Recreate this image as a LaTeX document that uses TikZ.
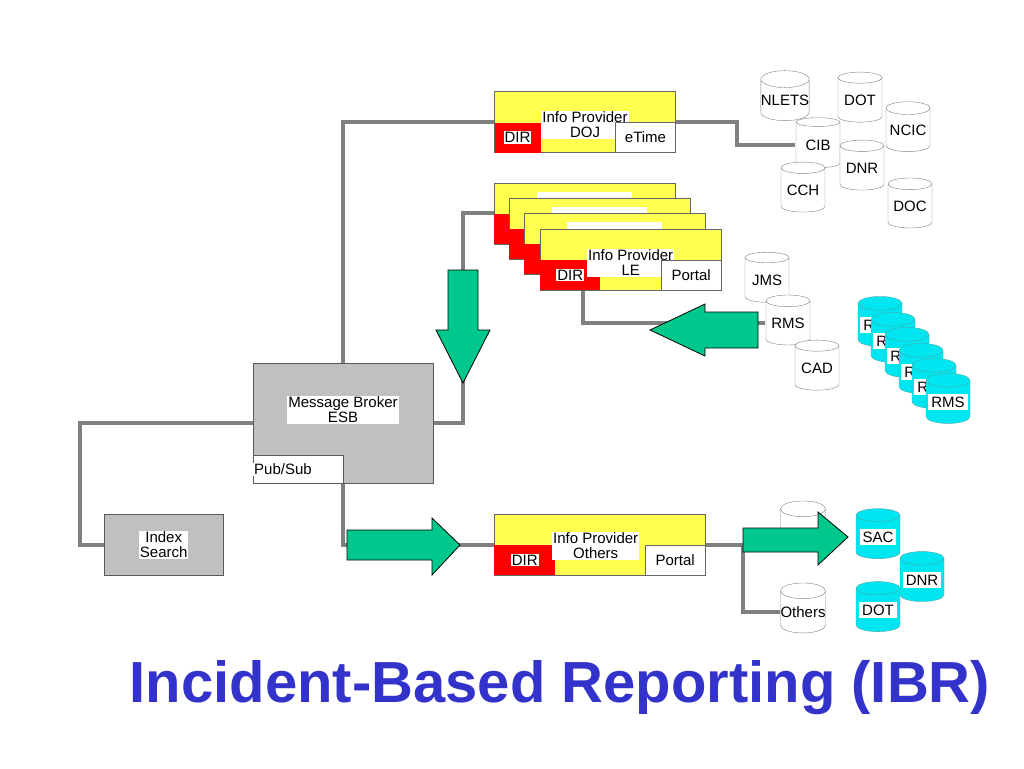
\documentclass[tikz,border=0pt]{standalone}
\usepackage{fontspec}
\setmainfont{Liberation Sans}
\usetikzlibrary{shapes.geometric,positioning,calc}
\definecolor{ibrgreen}{RGB}{0,200,140}
\definecolor{ibrcyan}{RGB}{0,230,240}
\definecolor{ibryellow}{RGB}{255,255,80}
\definecolor{ibrblue}{RGB}{51,51,204}
\definecolor{ibrgray}{RGB}{192,192,192}
\tikzset{
  wire/.style={draw=gray, line width=3.5pt},
  ybox/.style={draw=gray!80!black, fill=ibryellow, minimum width=181pt, minimum height=61pt, inner sep=0pt},
  dir/.style={fill=red, minimum height=30pt, inner sep=0pt, anchor=south west},
  side/.style={draw=gray!80!black, fill=white, minimum width=60pt, minimum height=30pt, inner sep=0pt, anchor=south east},
  tag/.style={fill=white, inner sep=1pt, align=center, font=\fontsize{15}{15}\selectfont},
  gbox/.style={draw=gray!70!black, fill=ibrgray, inner sep=0pt},
  db/.style={cylinder, shape border rotate=90, aspect=0.35, draw=gray, fill=white,
    minimum width=44pt, minimum height=50pt, inner sep=0pt, font=\fontsize{15}{15}\selectfont},
  cdb/.style={db, draw=teal!70, fill=ibrcyan},
  fat/.style={draw=black, fill=ibrgreen, line width=0.8pt}
}
\begin{document}
\begin{tikzpicture}[x=1pt, y=-1pt]
  \useasboundingbox (0,0) rectangle (1024,768);

  % wires
  \draw[wire] (343,363) |- (494,122);
  \draw[wire] (675,122) -| (737,145) -- (795,145);
  \draw[wire] (433,423) -| (463,213) -- (494,213);
  \draw[wire] (253,423) -| (80,545) -- (104,545);
  \draw[wire] (343,483) |- (494,545);
  \draw[wire] (705,545) -| (743,612) -- (780,612);
  \draw[wire] (583,289) |- (765,323);

  % info provider DOJ
  \node[ybox] (doj) at (585,122) {};
  \node[dir, minimum width=46pt] (dojdir) at (doj.south west) {};
  \node[tag] at (dojdir) {DIR};
  \node[tag] at ($(doj)+(0,3)$) {Info Provider\\DOJ};
  \node[side] (etime) at (doj.south east) {};
  \node[tag] at (etime) {eTime};

  % stacked providers
  \node[ybox, anchor=north west] (lea) at (494,183) {};
  \node[dir, minimum width=60pt] at (lea.south west) {};
  \node[fill=white, minimum width=95pt, minimum height=12pt] at ($(lea.north)+(0,15)$) {};

  \node[ybox, anchor=north west] (leb) at (509,198) {};
  \node[dir, minimum width=60pt] at (leb.south west) {};
  \node[fill=white, minimum width=95pt, minimum height=12pt] at ($(leb.north)+(0,15)$) {};

  \node[ybox, anchor=north west] (lec) at (524,213) {};
  \node[dir, minimum width=60pt] at (lec.south west) {};
  \node[fill=white, minimum width=95pt, minimum height=12pt] at ($(lec.north)+(0,15)$) {};

  \node[ybox, anchor=north west] (le) at (540,229) {};
  \node[dir, minimum width=60pt] (ledir) at (le.south west) {};
  \node[tag] at (ledir) {DIR};
  \node[tag] at ($(le)+(0,3)$) {Info Provider\\LE};
  \node[side] (leportal) at (le.south east) {};
  \node[tag] at (leportal) {Portal};

  % info provider others
  \node[ybox, minimum width=211pt, anchor=north west] (oth) at (494,514) {};
  \node[dir, minimum width=61pt] (othdir) at (oth.south west) {};
  \node[tag] at (othdir) {DIR};
  \node[tag] at ($(oth)+(-4,1)$) {Info Provider\\Others};
  \node[side] (othportal) at (oth.south east) {};
  \node[tag] at (othportal) {Portal};

  % broker and index
  \node[gbox, minimum width=180pt, minimum height=120pt, anchor=north west] (esb) at (253,363) {};
  \node[tag] at (343,410) {Message Broker\\ESB};
  \node[draw=gray!70!black, fill=white, minimum width=90pt, minimum height=28pt,
    inner sep=0pt, anchor=south west] (pubsub) at (esb.south west) {};
  \node[tag, anchor=west] at (pubsub.west) {Pub/Sub};
  \node[gbox, minimum width=119pt, minimum height=61pt, anchor=north west] (idx) at (104,514) {};
  \node[tag] at (idx) {Index\\Search};

  % DOJ sources
  \node[db] (nlets) at (785,100) {NLETS};
  \node[db] (dot) at (860,100) {DOT};
  \node[db] (ncic) at (908,130) {NCIC};
  \node[db] (cib) at (818,145) {CIB};
  \node[db] (dnr) at (862,168) {DNR};
  \node[db] (cch) at (803,190) {CCH};
  \node[db] (doc) at (910,206) {DOC};

  % LE sources
  \node[db] (jms) at (767,280) {JMS};
  \node[db] (rms) at (788,323) {RMS};
  \node[db] (cad) at (817,368) {CAD};
  \node[cdb] (rmsa) at (880,325) {\colorbox{white}{RMS}};
  \node[cdb] (rmsb) at (893,341) {\colorbox{white}{RMS}};
  \node[cdb] (rmsc) at (907,356) {\colorbox{white}{RMS}};
  \node[cdb] (rmsd) at (921,372) {\colorbox{white}{RMS}};
  \node[cdb] (rmse) at (934,387) {\colorbox{white}{RMS}};
  \node[cdb] (rmsf) at (948,402) {\colorbox{white}{RMS}};

  % other sources
  \node[db] (blank) at (803,530) {\phantom{Others}};
  \node[db] (others) at (803,612) {Others};
  \node[cdb] (sac) at (878,537) {\colorbox{white}{SAC}};
  \node[cdb] (dnrb) at (922,580) {\colorbox{white}{DNR}};
  \node[cdb] (dotb) at (878,610) {\colorbox{white}{DOT}};

  % flow arrows
  \draw[fat] (448,270) -- (478,270) -- (478,330) -- (490,330) -- (463,383)
    -- (436,330) -- (448,330) -- cycle;
  \draw[fat] (758,312) -- (705,312) -- (705,304) -- (650,330) -- (705,356)
    -- (705,348) -- (758,348) -- cycle;
  \draw[fat] (347,530) -- (432,530) -- (432,518) -- (460,545) -- (432,575)
    -- (432,560) -- (347,560) -- cycle;
  \draw[fat] (743,528) -- (818,528) -- (818,512) -- (848,537) -- (818,565)
    -- (818,552) -- (743,552) -- cycle;

  \node[text=ibrblue, font=\fontsize{58}{58}\selectfont\bfseries] (title) at (560,688) {Incident-Based Reporting (IBR)};
\end{tikzpicture}
\end{document}
